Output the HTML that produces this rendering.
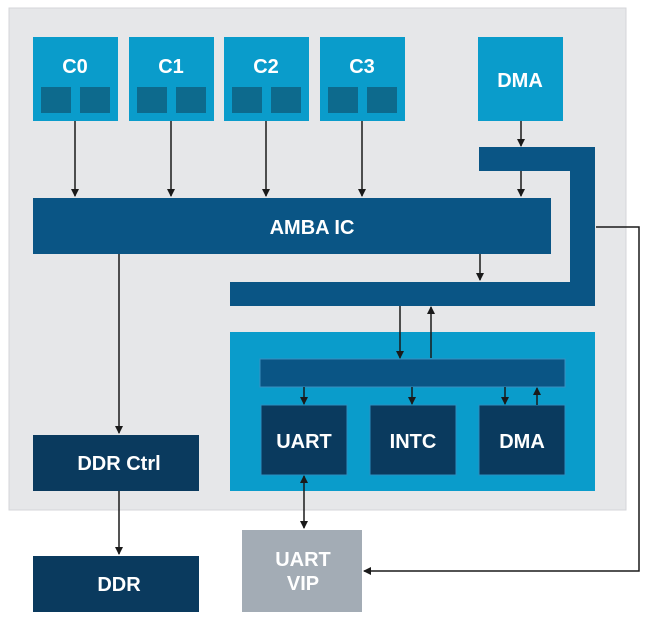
<!DOCTYPE html>
<html><head><style>
body{margin:0;background:#fff;}
svg text{font-family:"Liberation Sans",sans-serif;font-size:20px;font-weight:bold;fill:#fff;text-anchor:middle;}
</style></head><body>
<svg width="650" height="629" viewBox="0 0 650 629" xmlns="http://www.w3.org/2000/svg">
<defs><marker id="a" markerWidth="8" markerHeight="8" refX="7" refY="4" orient="auto" markerUnits="userSpaceOnUse"><path d="M0,0 L8,4 L0,8 z" fill="#1a1a1a"/></marker></defs>
<rect x="9" y="8" width="617" height="502" fill="#e6e7e9" stroke="#d4d6d9"/>
<g fill="#0a9ccb">
<rect x="33" y="37" width="85" height="84"/><rect x="129" y="37" width="85" height="84"/>
<rect x="224" y="37" width="85" height="84"/><rect x="320" y="37" width="85" height="84"/>
<rect x="478" y="37" width="85" height="84"/>
<rect x="230" y="332" width="365" height="159"/>
</g>
<g fill="#0d6a8d">
<rect x="41" y="87" width="30" height="26"/><rect x="80" y="87" width="30" height="26"/>
<rect x="137" y="87" width="30" height="26"/><rect x="176" y="87" width="30" height="26"/>
<rect x="232" y="87" width="30" height="26"/><rect x="271" y="87" width="30" height="26"/>
<rect x="328" y="87" width="30" height="26"/><rect x="367" y="87" width="30" height="26"/>
</g>
<text x="75" y="73">C0</text><text x="171" y="73">C1</text><text x="266" y="73">C2</text><text x="362" y="73">C3</text>
<text x="520" y="87">DMA</text>
<g fill="#0a5585">
<rect x="33" y="198" width="518" height="56"/>
<rect x="479" y="147" width="116" height="24"/>
<rect x="570" y="147" width="25" height="159"/>
<rect x="230" y="282" width="365" height="24"/>
<rect x="260" y="359" width="305" height="28" stroke="#3a8fc0" stroke-width="1"/>
</g>
<text x="312" y="234">AMBA IC</text>
<g fill="#0a3a5e">
<rect x="261" y="405" width="86" height="70" stroke="#2a8fc0"/>
<rect x="370" y="405" width="86" height="70" stroke="#2a8fc0"/>
<rect x="479" y="405" width="86" height="70" stroke="#2a8fc0"/>
<rect x="33" y="435" width="166" height="56"/>
<rect x="33" y="556" width="166" height="56"/>
</g>
<rect x="242" y="530" width="120" height="82" fill="#a3acb5"/>
<text x="304" y="448">UART</text><text x="413" y="448">INTC</text><text x="522" y="448">DMA</text>
<text x="119" y="470">DDR Ctrl</text><text x="119" y="591">DDR</text>
<text x="303" y="566">UART</text><text x="303" y="590">VIP</text>
<g stroke="#1a1a1a" stroke-width="1.5" fill="none" marker-end="url(#a)">
<path d="M75 121V196"/><path d="M171 121V196"/><path d="M266 121V196"/><path d="M362 121V196"/>
<path d="M521 121V146"/><path d="M521 171V196"/><path d="M480 254V280"/>
<path d="M400 306V358"/><path d="M431 358V307"/>
<path d="M304 387V404"/><path d="M412 387V404"/><path d="M505 387V404"/><path d="M537 405V388"/>
<path d="M119 254V433"/><path d="M119 491V554"/>
<path d="M304 490V528"/><path d="M304 490V476"/>
<path d="M596 227H639V571H364"/>
</g>
</svg>
</body></html>
